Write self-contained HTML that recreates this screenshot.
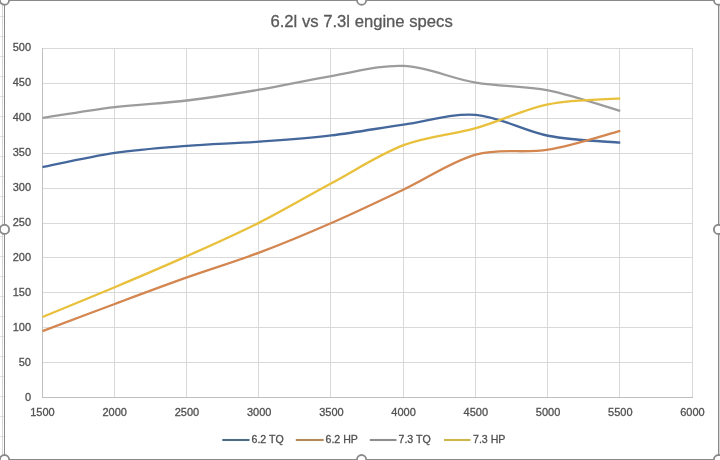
<!DOCTYPE html>
<html><head><meta charset="utf-8"><style>
html,body{margin:0;padding:0;background:#fff;}
svg{display:block;}
text{filter:grayscale(1);}
.t{font-family:"Liberation Sans",sans-serif;font-size:11px;fill:#505050;stroke:#505050;stroke-width:0.3px;}
.lg{font-size:10.6px;}
.title{font-family:"Liberation Sans",sans-serif;font-size:16.65px;fill:#595959;stroke:#595959;stroke-width:0.3px;}
</style></head><body>
<svg width="720" height="460" viewBox="0 0 720 460">
<rect width="720" height="460" fill="#fff"/>
<path d="M42,48.5 H693 M42,83.5 H693 M42,118.5 H693 M42,153.5 H693 M42,188.5 H693 M42,223.5 H693 M42,257.5 H693 M42,292.5 H693 M42,327.5 H693 M42,362.5 H693 M42.5,48 V397 M114.5,48 V397 M186.5,48 V397 M258.5,48 V397 M330.5,48 V397 M403.5,48 V397 M475.5,48 V397 M547.5,48 V397 M619.5,48 V397 M692.5,48 V397" stroke="#D9D9D9" stroke-width="1" fill="none"/>
<path d="M42,397.5 H693 M42.5,48 V397" stroke="#BFBFBF" stroke-width="1" fill="none"/>
<text x="31" y="401.4" class="t" text-anchor="end">0</text>
<text x="31" y="366.4" class="t" text-anchor="end">50</text>
<text x="31" y="331.4" class="t" text-anchor="end">100</text>
<text x="31" y="296.4" class="t" text-anchor="end">150</text>
<text x="31" y="261.4" class="t" text-anchor="end">200</text>
<text x="31" y="226.4" class="t" text-anchor="end">250</text>
<text x="31" y="191.4" class="t" text-anchor="end">300</text>
<text x="31" y="156.4" class="t" text-anchor="end">350</text>
<text x="31" y="121.4" class="t" text-anchor="end">400</text>
<text x="31" y="86.4" class="t" text-anchor="end">450</text>
<text x="31" y="51.4" class="t" text-anchor="end">500</text>
<text x="42.5" y="415.5" class="t" text-anchor="middle">1500</text>
<text x="114.7" y="415.5" class="t" text-anchor="middle">2000</text>
<text x="186.9" y="415.5" class="t" text-anchor="middle">2500</text>
<text x="259.2" y="415.5" class="t" text-anchor="middle">3000</text>
<text x="331.4" y="415.5" class="t" text-anchor="middle">3500</text>
<text x="403.6" y="415.5" class="t" text-anchor="middle">4000</text>
<text x="475.8" y="415.5" class="t" text-anchor="middle">4500</text>
<text x="548.1" y="415.5" class="t" text-anchor="middle">5000</text>
<text x="620.3" y="415.5" class="t" text-anchor="middle">5500</text>
<text x="692.5" y="415.5" class="t" text-anchor="middle">6000</text>
<path d="M42.50,167.16 C54.54,164.78 90.65,156.40 114.72,152.85 C138.80,149.30 162.87,147.73 186.94,145.87 C211.02,144.01 235.09,143.43 259.17,141.68 C283.24,139.94 307.31,138.25 331.39,135.40 C355.46,132.55 379.54,128.01 403.61,124.58 C427.69,121.15 451.76,112.95 475.83,114.81 C499.91,116.67 523.98,131.10 548.06,135.75 C572.13,140.40 608.24,141.57 620.28,142.73" stroke="#44679C" stroke-width="2.3" fill="none" stroke-linecap="butt" stroke-linejoin="round"/>
<path d="M42.50,331.19 C54.54,326.65 90.65,312.93 114.72,303.97 C138.80,295.01 162.87,285.99 186.94,277.44 C211.02,268.89 235.09,261.74 259.17,252.66 C283.24,243.59 307.31,233.53 331.39,223.00 C355.46,212.47 379.54,200.90 403.61,189.50 C427.69,178.10 451.76,161.23 475.83,154.60 C499.91,147.97 523.98,153.67 548.06,149.71 C572.13,145.75 608.24,134.00 620.28,130.86" stroke="#D38650" stroke-width="2.3" fill="none" stroke-linecap="butt" stroke-linejoin="round"/>
<path d="M42.50,117.95 C54.54,116.15 90.65,110.04 114.72,107.13 C138.80,104.22 162.87,103.41 186.94,100.50 C211.02,97.59 235.09,93.75 259.17,89.68 C283.24,85.61 307.31,80.03 331.39,76.07 C355.46,72.12 379.54,64.84 403.61,65.95 C427.69,67.06 451.76,78.63 475.83,82.70 C499.91,86.77 523.98,85.67 548.06,90.38 C572.13,95.09 608.24,107.54 620.28,110.97" stroke="#9C9C9C" stroke-width="2.3" fill="none" stroke-linecap="butt" stroke-linejoin="round"/>
<path d="M42.50,317.02 C54.54,312.05 90.65,297.36 114.72,287.22 C138.80,277.07 162.87,266.92 186.94,256.15 C211.02,245.39 235.09,234.81 259.17,222.65 C283.24,210.49 307.31,196.13 331.39,183.21 C355.46,170.30 379.54,154.36 403.61,145.17 C427.69,135.98 451.76,134.88 475.83,128.07 C499.91,121.27 523.98,109.28 548.06,104.34 C572.13,99.40 608.24,99.40 620.28,98.41" stroke="#E8C03C" stroke-width="2.3" fill="none" stroke-linecap="butt" stroke-linejoin="round"/>
<text x="361.6" y="26.5" class="title" text-anchor="middle">6.2l vs 7.3l engine specs</text>
<path d="M222.3,440 H249.5" stroke="#4E6B84" stroke-width="2.1" fill="none"/>
<text x="251.5" y="443" class="t lg">6.2 TQ</text>
<path d="M295.8,440 H323.7" stroke="#B48A5A" stroke-width="2.1" fill="none"/>
<text x="325.5" y="443" class="t lg">6.2 HP</text>
<path d="M369.8,440 H396.5" stroke="#8E8E8E" stroke-width="2.1" fill="none"/>
<text x="398.5" y="443" class="t lg">7.3 TQ</text>
<path d="M444,440 H470.5" stroke="#CDB64A" stroke-width="2.1" fill="none"/>
<text x="473" y="443" class="t lg">7.3 HP</text>
<path d="M0,16.5 H4 M0,36.5 H4 M0,56.5 H4 M0,76.5 H4 M0,96.5 H4 M0,116.5 H4 M0,136.5 H4 M0,156.5 H4 M0,176.5 H4 M0,196.5 H4 M0,216.5 H4 M0,236.5 H4 M0,256.5 H4 M0,276.5 H4 M0,296.5 H4 M0,316.5 H4 M0,336.5 H4 M0,356.5 H4 M0,376.5 H4 M0,396.5 H4 M0,416.5 H4 M0,436.5 H4 M0,456.5 H4" stroke="#e2e2e2" stroke-width="1" fill="none"/>
<path d="M2.5,0 V460 M719.5,0 V460" stroke="#d6d6d6" stroke-width="1" fill="none"/>
<path d="M4.5,0.5 H718.5 V459.5 H4.5 Z" stroke="#8a8a8a" stroke-width="1" fill="none"/>
<circle cx="4.5" cy="0.2" r="4.6" fill="#fff" stroke="#8a8a8a" stroke-width="1.85"/>
<circle cx="361.6" cy="0.2" r="4.6" fill="#fff" stroke="#8a8a8a" stroke-width="1.85"/>
<circle cx="718.5" cy="0.2" r="4.6" fill="#fff" stroke="#8a8a8a" stroke-width="1.85"/>
<circle cx="4.5" cy="229.4" r="4.6" fill="#fff" stroke="#8a8a8a" stroke-width="1.85"/>
<circle cx="718.5" cy="229.4" r="4.6" fill="#fff" stroke="#8a8a8a" stroke-width="1.85"/>
<circle cx="4.5" cy="459.6" r="4.6" fill="#fff" stroke="#8a8a8a" stroke-width="1.85"/>
<circle cx="361.6" cy="459.6" r="4.6" fill="#fff" stroke="#8a8a8a" stroke-width="1.85"/>
<circle cx="718.5" cy="459.6" r="4.6" fill="#fff" stroke="#8a8a8a" stroke-width="1.85"/>
</svg></body></html>
